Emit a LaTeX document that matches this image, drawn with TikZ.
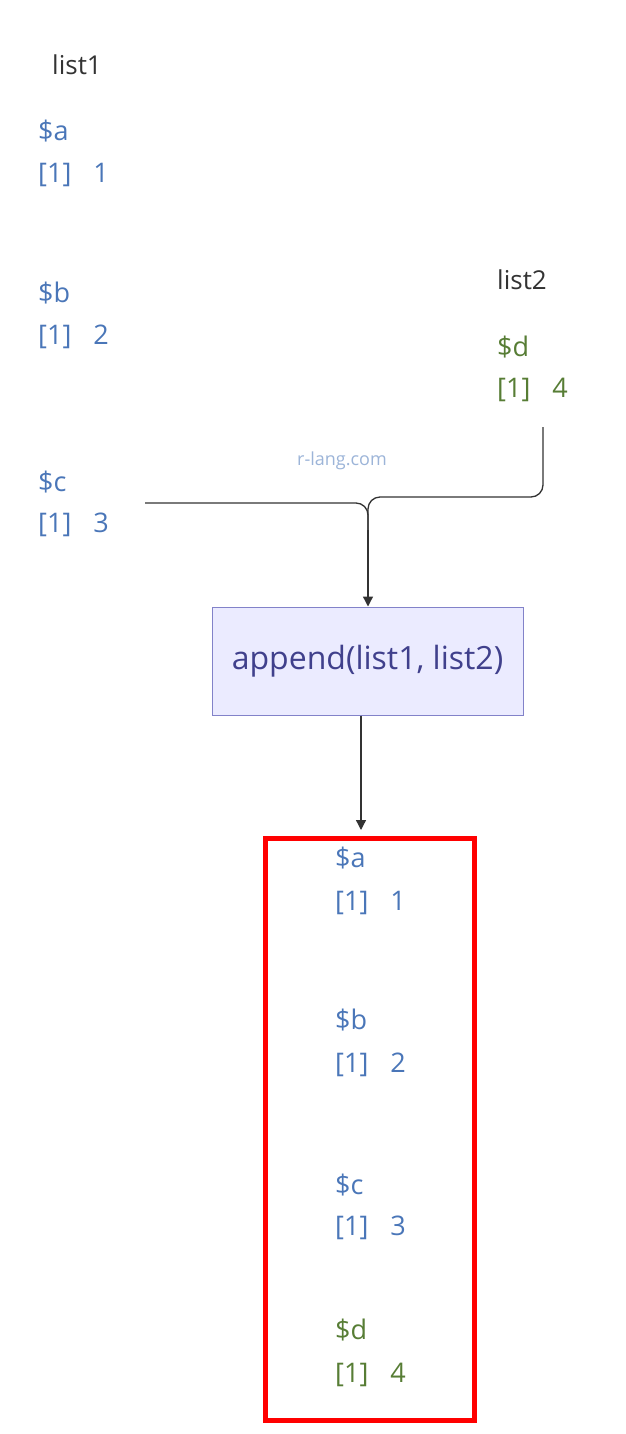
\documentclass[tikz,border=0pt]{standalone}
\usepackage{fontspec}
\setmainfont{Open Sans}
\usetikzlibrary{arrows.meta}
\definecolor{blu}{HTML}{4A76B8}
\definecolor{grn}{HTML}{577D35}
\definecolor{ttl}{HTML}{333333}
\begin{document}
\begin{tikzpicture}[x=1pt,y=-1pt,
  lab/.style={anchor=west,inner sep=0pt,font=\fontsize{27}{30}\selectfont},
  ttlt/.style={lab,text=ttl,font=\fontsize{26}{30}\selectfont},
  bl/.style={lab,text=blu},
  gr/.style={lab,text=grn},
  conn/.style={draw=black!80,line width=1.3pt,rounded corners=12pt},
  arr/.style={conn,-{Triangle[length=10pt,width=10pt]}}]
\useasboundingbox (0,0) rectangle (626,1434);
\node[ttlt] (l1) at (52,65) {list1};
\node[bl] (a1) at (38,131) {\$a};
\node[bl] (a2) at (38,175) {[1]\hspace{22pt}1};
\node[bl] (b1) at (38,293) {\$b};
\node[bl] (b2) at (38,337) {[1]\hspace{22pt}2};
\node[bl] (c1) at (38,482) {\$c};
\node[bl] (c2) at (38,525) {[1]\hspace{22pt}3};
\node[ttlt] (l2) at (497,280) {list2};
\node[gr] (d1) at (497,347) {\$d};
\node[gr] (d2) at (497,390) {[1]\hspace{22pt}4};
\node[inner sep=0pt,text=blu!55,font=\fontsize{18}{20}\selectfont] (wm) at (342,461) {r-lang.com};
\node[draw=blue!40!gray!70,fill=blue!8,line width=1pt,minimum width=311pt,minimum height=108pt,
  text=blue!40!black!75,font=\fontsize{32}{36}\selectfont] (ap) at (367.5,661) {append(list1, list2)};
\coordinate (s1) at (145,503);
\coordinate (s2) at (543,427);
\coordinate (j) at (368,530);
\draw[conn] (s1) -- (368,503) -- (j);
\draw[conn] (s2) -- (543,497) -- (368,497) -- (j);
\draw[arr] (j) -- (ap.north -| j);
\node[draw=red,line width=5pt,minimum width=209pt,minimum height=582pt] (res) at (369.5,1129) {};
\draw[arr] (ap.south -| 361,0) -- (361,830);
\node[bl] at (335,858) {\$a};
\node[bl] at (335,903) {[1]\hspace{22pt}1};
\node[bl] at (335,1020) {\$b};
\node[bl] at (335,1065) {[1]\hspace{22pt}2};
\node[bl] at (335,1185) {\$c};
\node[bl] at (335,1228) {[1]\hspace{22pt}3};
\node[gr] at (335,1330) {\$d};
\node[gr] at (335,1375) {[1]\hspace{22pt}4};
\end{tikzpicture}
\end{document}
